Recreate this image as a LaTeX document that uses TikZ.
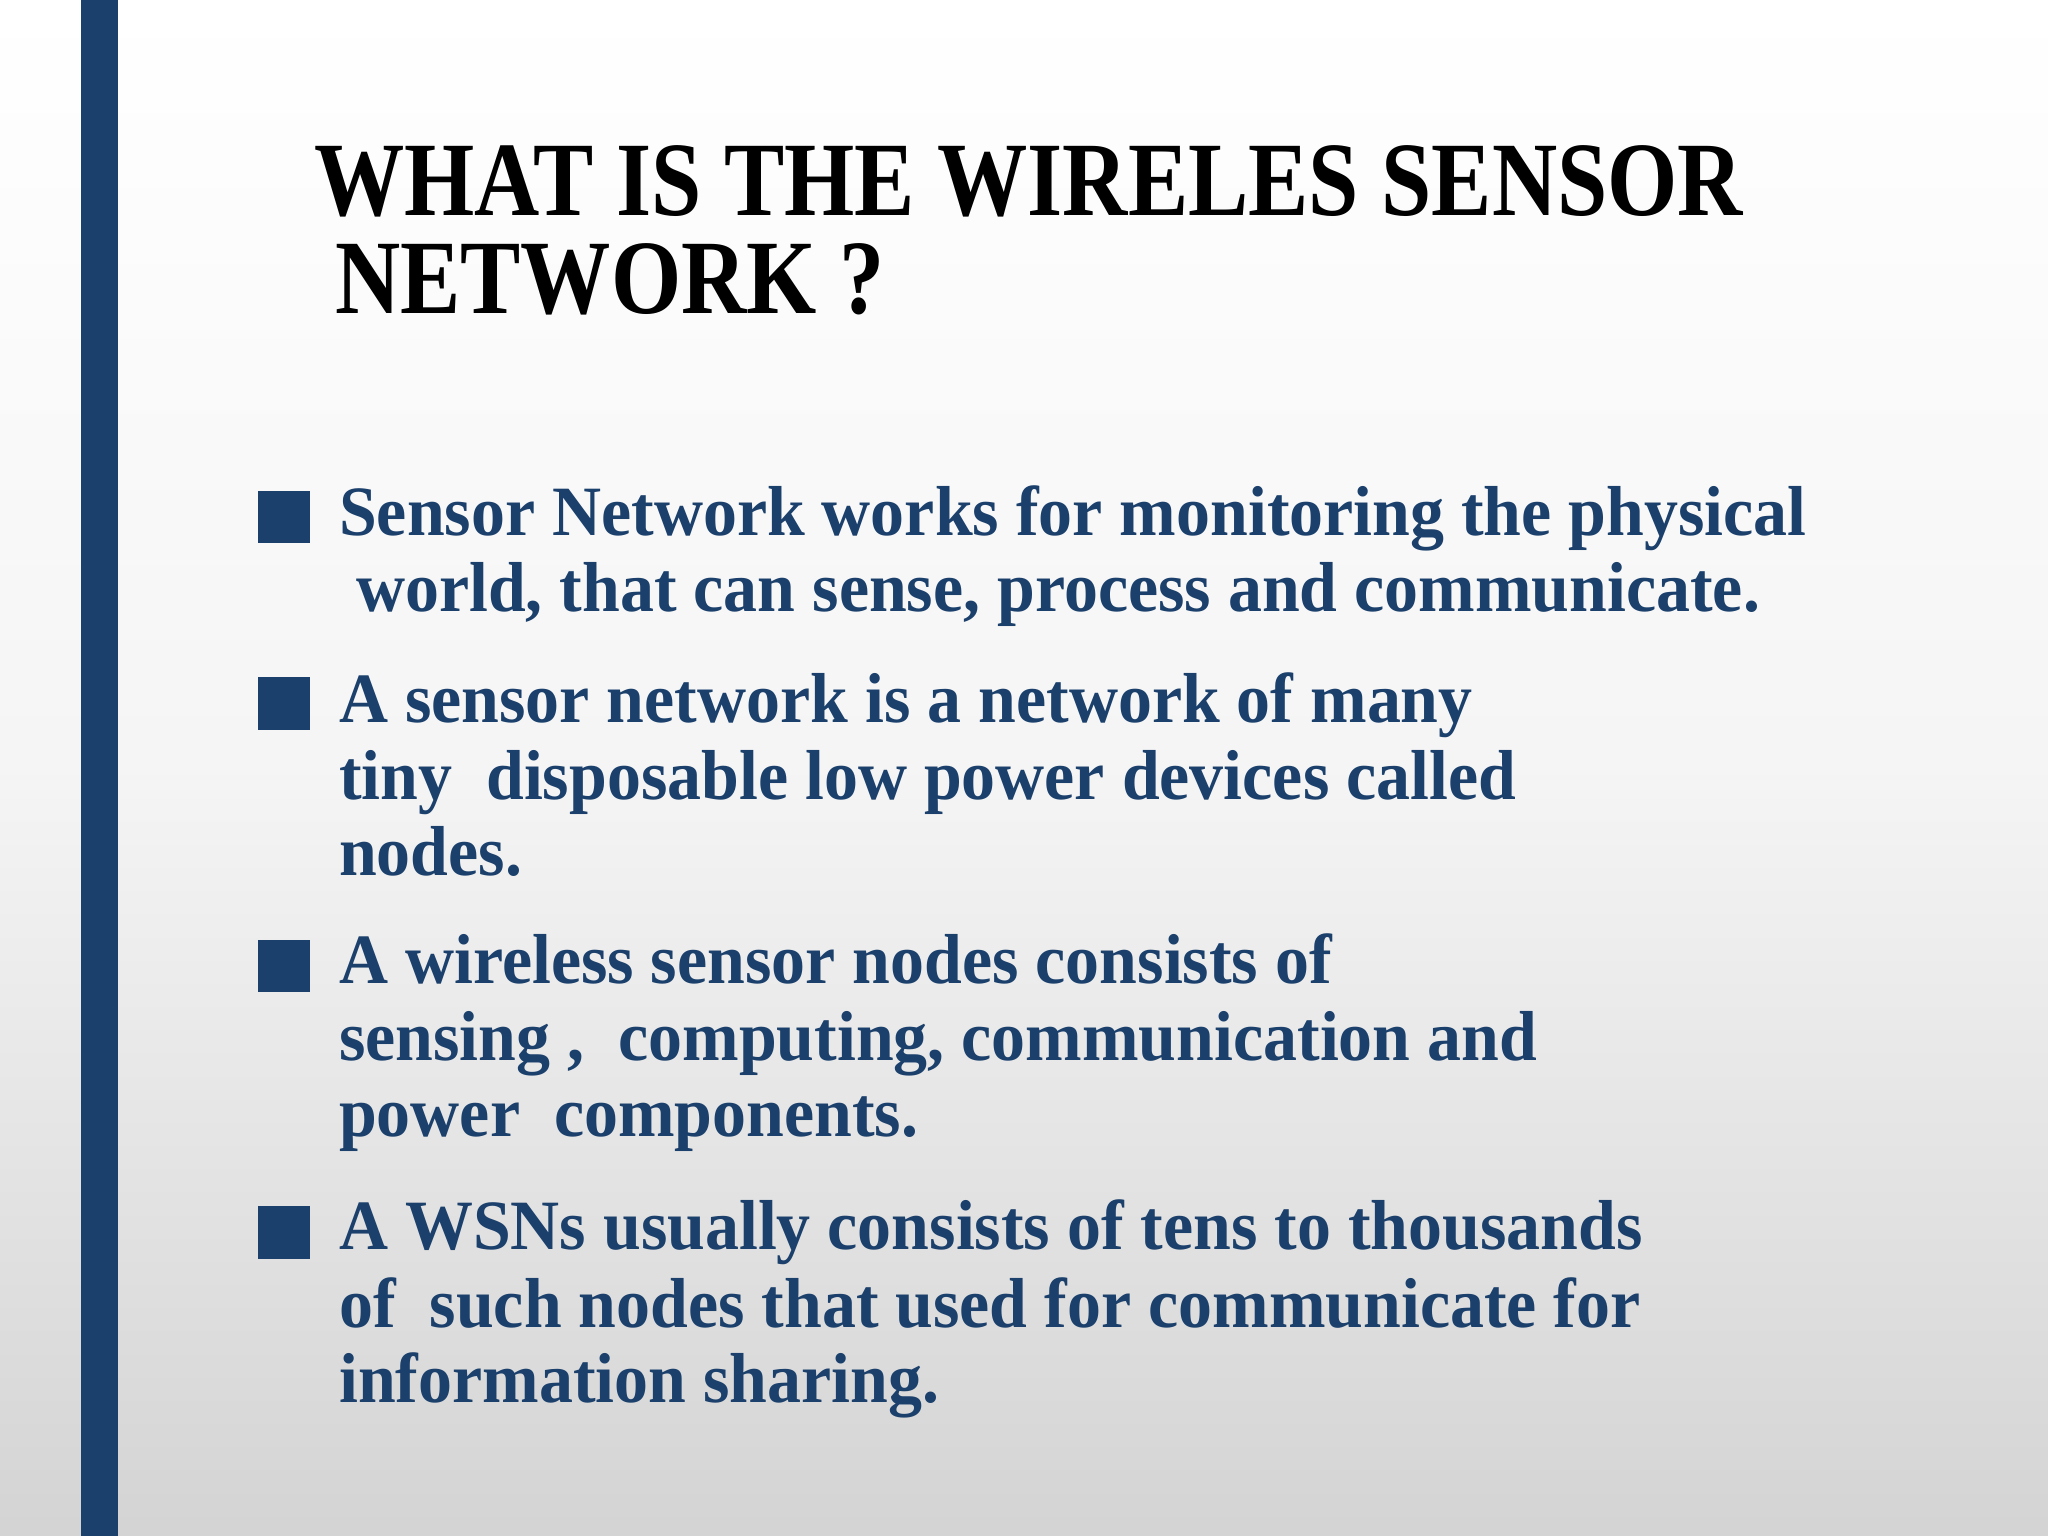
\documentclass[tikz,border=0pt]{standalone}
\usepackage{fontspec}
\setmainfont{Liberation Serif}
\definecolor{slideblue}{HTML}{1B406C}
\tikzset{
  ttl/.style={anchor=base west,inner sep=0pt,font=\fontsize{23pt}{28pt}\selectfont\bfseries,text=black,xscale=0.855},
  txt/.style={anchor=base west,inner sep=0pt,font=\fontsize{15.4pt}{19pt}\selectfont\bfseries,text=slideblue,xscale=0.96},
  bul/.style={fill=slideblue,minimum size=0.4cm,inner sep=0pt,anchor=north west}
}
\begin{document}
\begin{tikzpicture}[x=0.01cm,y=-0.01cm]
\useasboundingbox (0,0) rectangle (1568,1176);
\shade[top color=white,bottom color=white!83!black,middle color=white!96!black] (0,0) rectangle (1568,1176);
\fill[slideblue] (62,0) rectangle (90,1176);
\node[ttl] (t1) at (240,165) {WHAT IS THE WIRELES SENSOR};
\node[ttl] (t2) at (256,240) {NETWORK ?};
\node[bul] (b1) at (197,375) {};
\node[txt] (l11) at (259,410) {Sensor Network works for monitoring the physical};
\node[txt] (l12) at (272,468) {world, that can sense, process and communicate.};
\node[bul] (b2) at (197,518) {};
\node[txt] (l21) at (259,553) {A sensor network is a network of many};
\node[txt] (l22) at (259,612) {tiny\ \ disposable low power devices called};
\node[txt] (l23) at (259,670) {nodes.};
\node[bul] (b3) at (197,719) {};
\node[txt] (l31) at (259,753) {A wireless sensor nodes consists of};
\node[txt] (l32) at (259,812) {sensing ,\ \ computing, communication and};
\node[txt] (l33) at (259,870) {power\ \ components.};
\node[bul] (b4) at (197,923) {};
\node[txt] (l41) at (259,957) {A WSNs usually consists of tens to thousands};
\node[txt] (l42) at (259,1016) {of\ \ such nodes that used for communicate for};
\node[txt] (l43) at (259,1074) {information sharing.};
\end{tikzpicture}
\end{document}
